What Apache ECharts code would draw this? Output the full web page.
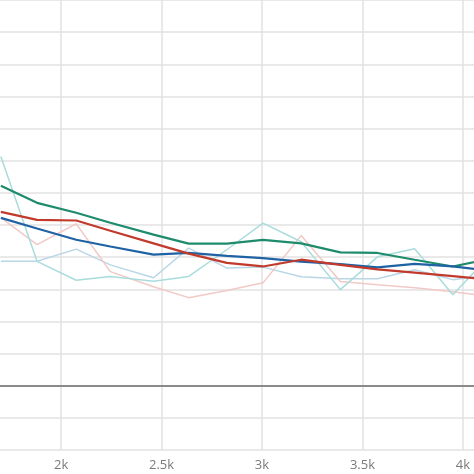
<!DOCTYPE html>
<html><head><meta charset="utf-8">
<script src="https://cdn.jsdelivr.net/npm/echarts@6/dist/echarts.min.js"></script>
<style>html,body{margin:0;padding:0;background:#fff}#c{width:474px;height:474px}</style>
</head><body><div id="c"></div>
<script>
const steps = [1700, 1880, 2075, 2245, 2460, 2635, 2825, 3005, 3195, 3390, 3575, 3760, 3950, 4140];
const xTicks = [2000, 2500, 3000, 3500, 4000];
const greenSmooth = [6.22, 5.69, 5.38, 5.07, 4.70, 4.42, 4.42, 4.54, 4.43, 4.15, 4.13, 3.92, 3.71, 3.95];
const redSmooth   = [5.41, 5.16, 5.14, 4.82, 4.43, 4.11, 3.82, 3.71, 3.92, 3.76, 3.62, 3.52, 3.41, 3.30];
const blueSmooth  = [5.22, 4.89, 4.54, 4.33, 4.08, 4.13, 4.04, 3.97, 3.86, 3.78, 3.68, 3.79, 3.71, 3.58];
const cyanRaw     = [7.13, 3.87, 3.28, 3.40, 3.25, 3.40, 4.23, 5.06, 4.48, 2.99, 4.01, 4.26, 2.83, 4.08];
const blueRaw     = [3.87, 3.87, 4.25, 3.76, 3.36, 4.28, 3.66, 3.69, 3.39, 3.33, 3.33, 3.61, 3.30, 3.45];
const pinkRaw     = [5.23, 4.39, 5.04, 3.55, 3.08, 2.74, 2.96, 3.20, 4.67, 3.24, 3.14, 3.05, 2.92, 2.77];

const pair = arr => steps.map((s, i) => [s, arr[i]]);
function line(name, arr, color, width, z) {
  return { name, type: 'line', data: pair(arr), showSymbol: false, symbol: 'none',
    lineStyle: { color, width }, z, silent: true, animation: false };
}
const chart = echarts.init(document.getElementById('c'), null, { renderer: 'canvas' });
const series = [
  line('raw-blue', blueRaw, '#b9d6e6', 1.5, 2),
  line('raw-pink', pinkRaw, '#f1c9c6', 1.5, 2),
  line('raw-cyan', cyanRaw, '#a9dcdc', 1.5, 2),
  line('green', greenSmooth, '#1d8b6c', 2.2, 3),
  line('blue', blueSmooth, '#1f62a4', 2.2, 3),
  line('red', redSmooth, '#c13a2c', 2.2, 4)
];
series[0].markLine = { silent: true, symbol: 'none', label: { show: false },
  lineStyle: { color: '#8a8a8a', width: 2, type: 'solid' }, data: [{ yAxis: 0 }] };
chart.setOption({
  animation: false,
  grid: { left: -39.3, width: 602.6, top: 0, bottom: 24, containLabel: false, outerBoundsMode: 'none' },
  xAxis: {
    type: 'value', min: 1500, max: 4500, interval: 500,
    axisLine: { show: false }, axisTick: { show: false },
    splitLine: { show: true, lineStyle: { color: '#e2e2e2', width: 1.5 } },
    axisLabel: { color: '#7a7a7a', fontSize: 13, fontFamily: 'Open Sans', margin: 9,
      formatter: v => (xTicks.includes(v) ? (v / 1000) + 'k' : '') }
  },
  yAxis: {
    type: 'value', min: -2, max: 12, interval: 1,
    axisLine: { show: false }, axisTick: { show: false }, axisLabel: { show: false },
    splitLine: { show: true, lineStyle: { color: '#e2e2e2', width: 1.5 } }
  },
  series
});
</script></body></html>
